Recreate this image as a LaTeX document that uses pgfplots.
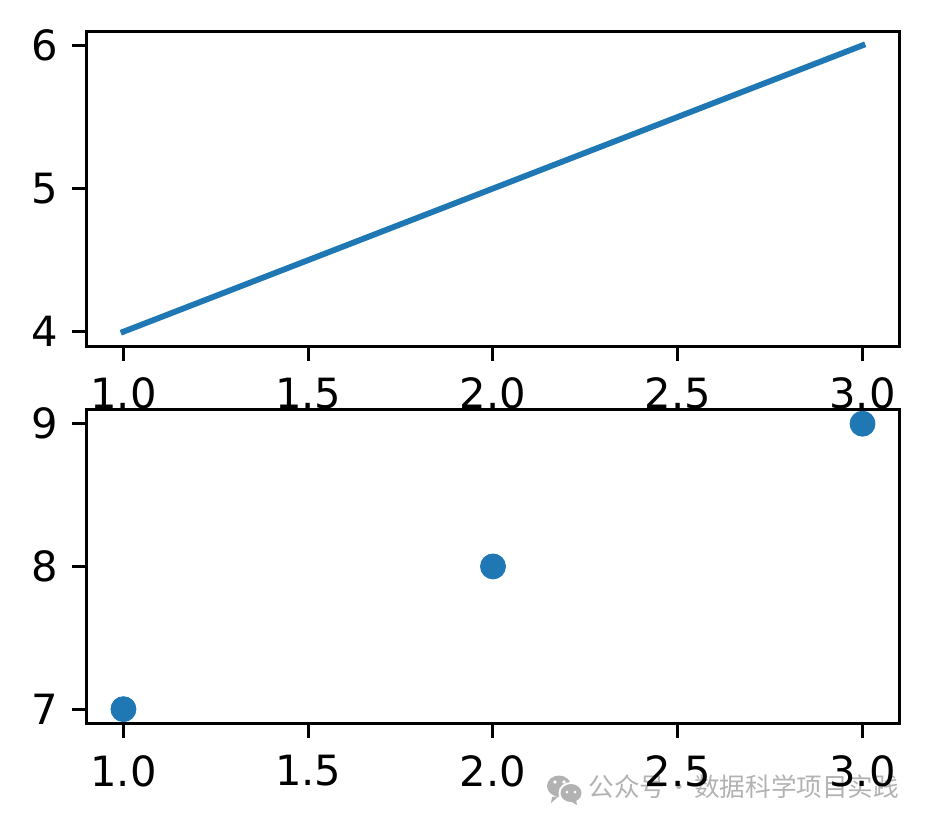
\documentclass[border=0pt]{standalone}
\usepackage{fontspec}
\setmainfont{DejaVu Sans}
\newfontfamily\cjk{Noto Sans CJK SC}
\usepackage{pgfplots}
\pgfplotsset{compat=1.18}
\definecolor{mplblue}{HTML}{1F77B4}
\definecolor{wm}{HTML}{B2B2B2}
\pgfplotsset{
  mplstyle/.style={
    scale only axis,
    width=195.12pt,
    anchor=south west,
    xmin=0.9, xmax=3.1,
    xtick={1,1.5,2,2.5,3},
    tick align=outside,
    tick pos=lower,
    major tick length=3.5pt,
    every tick/.style={black, line width=0.72pt},
    axis line style={line width=0.72pt},
    /pgf/number format/assume math mode=true,
    xticklabel style={/pgf/number format/fixed, /pgf/number format/fixed zerofill, /pgf/number format/precision=1, font=\fontsize{10}{12}\selectfont, inner sep=0pt, yshift=-3.9pt, anchor=north},
    yticklabel style={/pgf/number format/fixed, /pgf/number format/precision=0, font=\fontsize{10}{12}\selectfont, inner sep=0pt, xshift=-3.1pt, anchor=east},
    clip=false,
  }
}
\begin{document}
\begin{tikzpicture}[x=0.24pt, y=0.24pt]
\useasboundingbox (0,0) rectangle (929,823);
% watermark sits under the axes
\fill[wm] (559,37) ellipse (12 and 10.5);
\fill[wm] (552,26) -- (551,20) -- (559,27) -- cycle;
\fill[white] (571,30) ellipse (12.5 and 11);
\fill[wm] (571,30) ellipse (10.5 and 9);
\fill[wm] (576,23) -- (577,18) -- (570,22) -- cycle;
\fill[white] (555,41) circle (1.8) (564,41) circle (1.8) (567,31) circle (1.5) (575,31) circle (1.5);
\node[anchor=east, inner sep=0pt, text=wm, font=\cjk\fontsize{6.15}{7}\selectfont] at (900,36) {公众号\makebox[6.9pt][c]{·}数据科学项目实践};

\begin{axis}[mplstyle, height=75.6pt, at={(20.76pt,114.48pt)}, ymin=3.9, ymax=6.1, ytick={4,5,6}]
\addplot[mplblue, line width=1.4pt, line cap=rect, no markers] coordinates {(1,4) (2,5) (3,6)};
\end{axis}

\begin{axis}[mplstyle, height=75.36pt, at={(20.76pt,23.9pt)}, ymin=6.9, ymax=9.1, ytick={7,8,9}]
\addplot[only marks, mark=*, mark size=3pt, mark options={fill=mplblue, draw=mplblue, line width=0.2pt}] coordinates {(1,7) (2,8) (3,9)};
\end{axis}
\end{tikzpicture}
\end{document}
